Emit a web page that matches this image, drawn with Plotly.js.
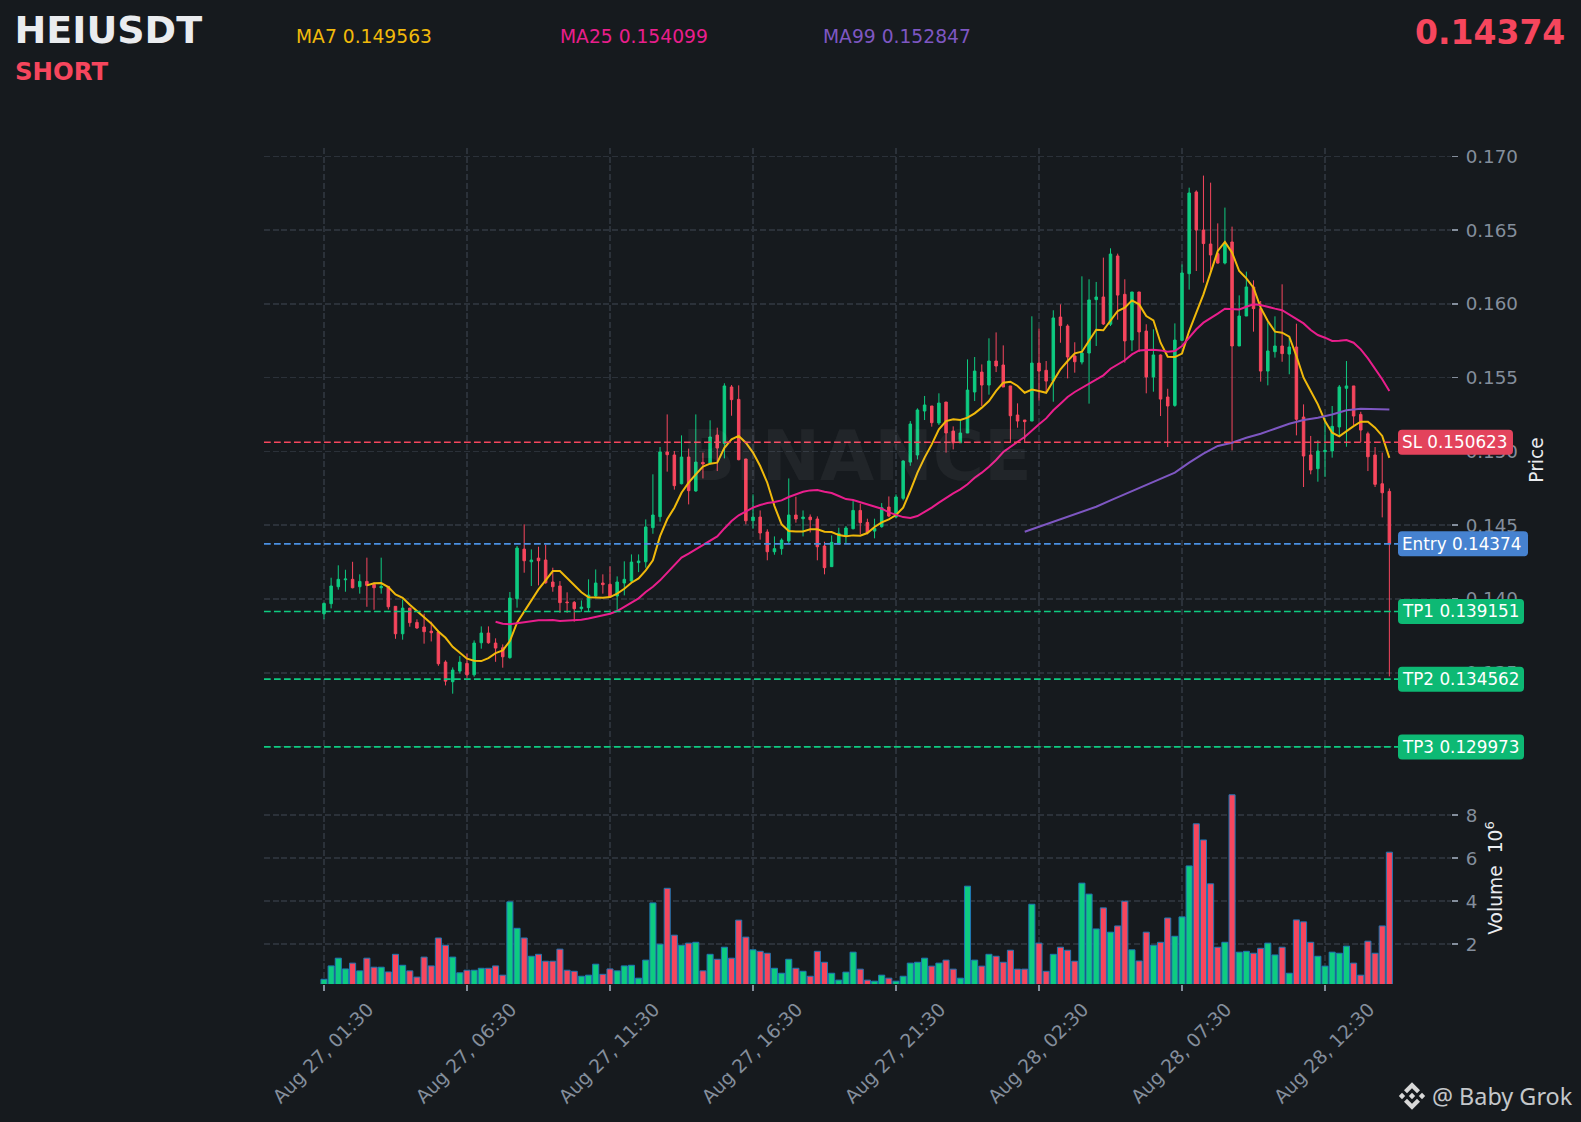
<!DOCTYPE html>
<html><head><meta charset="utf-8">
<script src="https://cdn.plot.ly/plotly-3.0.1.min.js"></script>
<style>html,body{margin:0;padding:0;background:#161a1e}#c{width:1581px;height:1122px}</style></head>
<body><div id="c"></div>
<script>
const opens=[.13900,.13968,.14083,.14130,.14133,.14083,.14119,.14099,.14076,.14085,.13950,.13764,.13938,.13841,.13810,.13782,.13776,.13572,.13439,.13511,.13563,.13486,.13703,.13769,.13701,.13669,.13602,.14002,.14338,.14252,.14277,.14264,.14115,.14088,.13979,.13977,.13934,.13941,.14020,.14108,.14099,.14020,.14108,.14121,.14246,.14252,.14483,.14558,.14996,.14976,.14781,.14962,.14732,.14926,.14919,.15111,.15055,.15437,.15353,.14949,.14530,.14555,.14454,.14320,.14341,.14393,.14569,.14544,.14555,.14542,.14359,.14219,.14372,.14433,.14476,.14600,.14519,.14460,.14490,.14623,.14555,.14682,.14928,.14976,.15274,.15308,.15193,.15335,.15138,.15059,.15125,.15403,.15538,.15450,.15613,.15586,.15444,.15247,.15213,.15206,.15599,.15550,.15477,.15911,.15850,.15647,.15606,.15667,.16029,.16047,.15862,.16325,.16065,.15755,.16081,.15816,.15505,.15654,.15369,.15312,.15753,.16205,.16759,.16501,.16406,.16341,.16277,.16420,.15715,.15918,.16115,.15968,.15545,.15676,.15715,.15660,.15708,.15233,.14976,.14883,.14998,.15003,.15166,.15428,.15444,.15251,.15120,.14976,.14781,.14729];
const highs=[.13975,.14144,.14228,.14198,.14252,.14167,.14280,.14112,.14280,.14088,.13950,.13997,.13940,.13862,.13900,.13846,.13776,.13584,.13536,.13613,.13629,.13719,.13814,.13814,.13733,.13692,.14047,.14359,.14506,.14336,.14354,.14368,.14212,.14121,.14045,.13986,.13990,.14133,.14200,.14167,.14221,.14153,.14255,.14302,.14302,.14539,.14845,.15030,.15251,.15003,.15109,.15019,.15251,.14992,.15211,.15161,.15462,.15450,.15448,.14949,.14709,.14600,.14472,.14424,.14411,.14817,.14693,.14600,.14573,.14560,.14388,.14431,.14483,.14494,.14664,.14646,.14544,.14544,.14650,.14695,.14709,.14940,.15206,.15292,.15376,.15308,.15394,.15335,.15170,.15206,.15624,.15640,.15590,.15767,.15807,.15719,.15444,.15326,.15213,.15916,.15834,.15613,.15957,.15997,.15862,.15740,.16187,.16167,.16149,.16314,.16377,.16341,.16167,.16081,.16081,.15862,.15828,.15658,.15425,.15868,.16268,.16788,.16770,.16870,.16822,.16546,.16653,.16524,.16058,.16219,.16160,.16020,.15875,.15916,.16133,.15771,.15866,.15319,.15105,.15075,.15229,.15308,.15450,.15613,.15444,.15269,.15134,.15030,.14992,.14749];
const lows=[.13862,.13936,.14063,.14049,.14072,.14036,.13947,.13927,.14036,.13929,.13730,.13724,.13812,.13798,.13697,.13712,.13547,.13414,.13358,.13495,.13461,.13473,.13663,.13697,.13574,.13534,.13595,.13941,.14178,.14088,.14092,.14103,.14049,.13907,.13907,.13846,.13913,.13913,.14008,.14036,.14008,.13923,.14024,.14108,.14182,.14212,.14442,.14524,.14863,.14741,.14777,.14641,.14727,.14817,.14912,.14867,.14953,.15242,.14940,.14506,.14476,.14402,.14262,.14300,.14300,.14379,.14517,.14424,.14451,.14262,.14167,.14219,.14372,.14372,.14472,.14438,.14438,.14411,.14483,.14555,.14551,.14668,.14903,.14946,.15213,.15168,.15179,.14992,.15014,.15059,.15125,.15342,.15308,.15385,.15538,.15437,.15059,.15161,.15059,.15206,.15346,.15403,.15337,.15737,.15495,.15534,.15590,.15324,.15715,.15857,.15850,.15893,.15602,.15681,.15674,.15394,.15405,.15240,.15030,.15303,.15749,.16097,.16223,.16144,.16223,.16273,.16268,.15007,.15715,.15918,.15812,.15473,.15448,.15636,.15608,.15523,.15109,.14759,.14845,.14795,.14827,.14958,.15111,.15032,.15179,.15064,.14867,.14759,.14553,.13475];
const closes=[.13970,.14088,.14133,.14135,.14076,.14119,.14092,.14076,.14085,.13947,.13764,.13938,.13839,.13803,.13778,.13771,.13561,.13443,.13518,.13572,.13486,.13701,.13769,.13703,.13667,.13608,.14006,.14345,.14259,.14264,.14259,.14110,.14083,.13975,.13975,.13934,.13945,.14026,.14108,.14097,.14013,.14115,.14133,.14250,.14257,.14488,.14569,.14996,.14978,.14768,.14962,.14734,.14928,.14915,.15098,.15023,.15444,.15351,.14944,.14530,.14555,.14447,.14320,.14341,.14399,.14569,.14542,.14555,.14537,.14354,.14212,.14384,.14445,.14481,.14600,.14517,.14449,.14478,.14619,.14562,.14691,.14935,.15186,.15281,.15315,.15195,.15328,.15125,.15059,.15125,.15416,.15545,.15450,.15613,.15579,.15437,.15242,.15206,.15202,.15599,.15545,.15477,.15905,.15853,.15640,.15608,.15667,.16027,.16047,.15864,.16338,.16060,.15749,.16081,.15810,.15505,.15654,.15355,.15308,.15755,.16210,.16752,.16501,.16409,.16332,.16277,.16409,.15715,.15918,.16115,.15968,.15545,.15681,.15715,.15663,.15708,.15218,.14969,.14874,.15003,.15007,.15170,.15437,.15444,.15240,.15145,.14964,.14777,.14720,.14374];
const volumeM=[.37,.99,1.35,.85,1.12,.76,1.35,.93,.93,.71,1.53,1.02,.76,.47,1.40,.99,2.29,1.95,1.40,.67,.79,.79,.88,.88,.99,.56,3.97,2.74,2.29,1.44,1.53,1.21,1.21,1.77,.79,.74,.51,.56,1.07,.60,.85,.76,.99,1.02,.42,1.26,3.92,2.00,4.60,2.42,1.95,2.05,2.09,.76,1.53,1.30,1.86,1.35,3.12,2.33,1.74,1.67,1.58,.88,.65,1.30,.88,.74,.51,1.67,1.16,.65,.33,.70,1.63,.84,.33,.28,.56,.42,.28,.51,1.12,1.16,1.35,.98,1.12,1.26,.84,.42,4.70,1.26,.98,1.53,1.44,1.16,1.72,.84,.84,3.86,2.05,.74,1.53,1.86,1.72,1.21,4.84,4.33,2.71,3.69,2.56,2.85,4.00,1.74,1.22,2.56,1.95,2.09,3.22,2.37,3.27,5.64,7.60,6.85,4.81,1.86,2.09,8.95,1.63,1.67,1.58,1.81,2.05,1.50,1.86,.65,3.13,3.04,2.09,1.44,.98,1.63,1.58,1.91,1.12,.56,2.14,1.58,2.85,6.28];
const ma7Start=6;
const ma7=[.14092,.14106,.14108,.14081,.14031,.14008,.13961,.13918,.13877,.13834,.13780,.13737,.13676,.13635,.13595,.13581,.13579,.13599,.13633,.13651,.13715,.13839,.13913,.13988,.14065,.14126,.14189,.14189,.14139,.14094,.14045,.14011,.14008,.14008,.14013,.14036,.14069,.14110,.14139,.14194,.14262,.14426,.14540,.14619,.14720,.14788,.14845,.14897,.14917,.14924,.15025,.15082,.15105,.15059,.14992,.14901,.14788,.14630,.14506,.14460,.14458,.14458,.14472,.14472,.14456,.14454,.14433,.14426,.14431,.14429,.14447,.14488,.14519,.14540,.14569,.14619,.14732,.14856,.14958,.15048,.15150,.15206,.15218,.15213,.15229,.15258,.15297,.15342,.15410,.15466,.15473,.15444,.15398,.15419,.15410,.15398,.15477,.15557,.15613,.15665,.15676,.15749,.15825,.15821,.15884,.15952,.15975,.16024,.15997,.15918,.15889,.15737,.15642,.15640,.15663,.15816,.15941,.16065,.16212,.16359,.16420,.16348,.16223,.16173,.16110,.15975,.15884,.15812,.15805,.15778,.15647,.15500,.15410,.15319,.15206,.15127,.15102,.15138,.15172,.15202,.15202,.15161,.15105,.14956];
const ma25Start=24;
const ma25=[.13846,.13832,.13828,.13834,.13841,.13850,.13855,.13855,.13857,.13850,.13852,.13857,.13859,.13868,.13880,.13891,.13900,.13918,.13947,.13975,.14004,.14047,.14083,.14126,.14178,.14234,.14280,.14307,.14336,.14363,.14393,.14424,.14478,.14528,.14567,.14591,.14619,.14637,.14650,.14657,.14668,.14691,.14709,.14727,.14736,.14738,.14727,.14718,.14698,.14677,.14671,.14655,.14641,.14623,.14612,.14587,.14571,.14555,.14549,.14562,.14591,.14619,.14653,.14686,.14716,.14743,.14777,.14822,.14856,.14897,.14942,.14996,.15034,.15066,.15098,.15143,.15184,.15224,.15279,.15324,.15369,.15403,.15432,.15462,.15489,.15516,.15561,.15590,.15618,.15658,.15685,.15688,.15690,.15685,.15676,.15681,.15715,.15771,.15828,.15873,.15902,.15934,.15968,.15963,.15963,.15981,.15997,.15993,.15979,.15968,.15957,.15929,.15900,.15868,.15823,.15789,.15771,.15749,.15751,.15755,.15737,.15692,.15631,.15563,.15489,.15410];
const ma99Index=[98,100,103,106,108,110,112,115,117,119,121,123,125,127,129,131,133,135,137,139,141,143,145,147,149];
const ma99=[.14456,.14490,.14538,.14588,.14625,.14668,.14710,.14777,.14815,.14856,.14924,.14985,.15037,.15059,.15093,.15120,.15154,.15188,.15213,.15229,.15251,.15279,.15290,.15290,.15285];
const levelNames=['SL','Entry','TP1','TP2','TP3'];
const levelValues=[.150623,.14374,.139151,.134562,.129973];
const levelColors=['#f6465d','#4a90e2','#0ecb81','#0ecb81','#0ecb81'];
const levelBoxColors=['#e3435c','#4682d0','#0db974','#0db974','#0db974'];
const levelBoxWidths=[115,130,126,126,126];
const tickIndex=[0,20,40,60,80,100,120,140];
const tickLabels=['Aug 27, 01:30','Aug 27, 06:30','Aug 27, 11:30','Aug 27, 16:30','Aug 27, 21:30','Aug 28, 02:30','Aug 28, 07:30','Aug 28, 12:30'];
const maLabels=['MA7 0.149563','MA25 0.154099','MA99 0.152847'];

const W=1581,H=1122,L=264,R=130,T=148,B=138,SPLIT=772;
const px=x=>(x-L)/(W-L-R), py=y=>1-(y-T)/(H-T-B);
const UP='#0ecb81',DN='#f6465d',BG='#161a1e',TICK='#848e9c',GRID='#2b3139',DASH='6px,2.7px';
const xs=opens.map((_,i)=>i);
const seq=(s,n)=>Array.from({length:n},(_,k)=>s+k);

const traces=[
 {type:'candlestick',x:xs,open:opens,high:highs,low:lows,close:closes,xaxis:'x',yaxis:'y',whiskerwidth:0,
  increasing:{line:{color:UP,width:1},fillcolor:UP},decreasing:{line:{color:DN,width:1},fillcolor:DN},hoverinfo:'skip',name:'HEIUSDT'},
 {type:'scatter',mode:'lines',name:'MA7',x:seq(ma7Start,ma7.length),y:ma7,line:{color:'#f0b90b',width:2},xaxis:'x',yaxis:'y',hoverinfo:'skip'},
 {type:'scatter',mode:'lines',name:'MA25',x:seq(ma25Start,ma25.length),y:ma25,line:{color:'#e91e8c',width:2},xaxis:'x',yaxis:'y',hoverinfo:'skip'},
 {type:'scatter',mode:'lines',name:'MA99',x:ma99Index,y:ma99,line:{color:'#7e57c2',width:2},xaxis:'x',yaxis:'y',hoverinfo:'skip'},
 {type:'bar',name:'Volume',x:xs,y:volumeM,xaxis:'x',yaxis:'y2',width:0.85,
  marker:{color:xs.map(i=>closes[i]>=opens[i]?UP:DN),line:{color:'#1f77b4',width:1}},hoverinfo:'skip'}
];

function rr(x0,y0,x1,y1,r){return `M${x0+r},${y0}L${x1-r},${y0}Q${x1},${y0} ${x1},${y0+r}L${x1},${y1-r}Q${x1},${y1} ${x1-r},${y1}L${x0+r},${y1}Q${x0},${y1} ${x0},${y1-r}L${x0},${y0+r}Q${x0},${y0} ${x0+r},${y0}Z`;}

const shapes=[],annotations=[];
levelValues.forEach((v,i)=>{
 shapes.push({type:'line',xref:'paper',yref:'y',x0:0,x1:px(1398),y0:v,y1:v,line:{color:levelColors[i],width:1.7,dash:'6.7px,3.3px'},layer:'above'});
 shapes.push({type:'path',xref:'paper',yref:'y',xsizemode:'pixel',ysizemode:'pixel',xanchor:px(1398),yanchor:v,
   path:rr(0,-12.5,levelBoxWidths[i],12.5,4),fillcolor:levelBoxColors[i],line:{width:0},layer:'above'});
 annotations.push({xref:'paper',yref:'y',x:px(1400.5),y:v,xanchor:'left',yanchor:'middle',showarrow:false,
   text:levelNames[i]+' '+String(v),font:{family:'DejaVu Sans',size:16.8,color:'#ffffff'},borderpad:0});
});
// Binance-style logo next to the signature
const logoX=px(1412),logoY=py(1096);
[[ -10,0],[0,0],[10,0]].forEach(([dx,dy])=>{
 shapes.push({type:'path',xref:'paper',yref:'paper',xsizemode:'pixel',ysizemode:'pixel',xanchor:logoX,yanchor:logoY,
  path:`M${dx-3.2},${dy}L${dx},${dy+3.2}L${dx+3.2},${dy}L${dx},${dy-3.2}Z`,fillcolor:'#d9d9d9',line:{width:0},layer:'above'});
});
[1,-1].forEach(s=>{
 shapes.push({type:'path',xref:'paper',yref:'paper',xsizemode:'pixel',ysizemode:'pixel',xanchor:logoX,yanchor:logoY,
  path:`M0,${13.7*s}L8,${5.7*s}L5,${2.7*s}L0,${7.7*s}L-5,${2.7*s}L-8,${5.7*s}Z`,fillcolor:'#d9d9d9',line:{width:0},layer:'above'});
});
function label(text,x,y,size,color,bold,anchor,family){
 annotations.push({xref:'paper',yref:'paper',x:px(x),y:py(y),xanchor:anchor||'left',yanchor:'middle',showarrow:false,text:bold?'<b>'+text+'</b>':text,
   font:{family:family||'DejaVu Sans',size:size,color:color},borderpad:0,borderwidth:0});
}
label('BINANCE',857,456,70,'rgba(255,255,255,0.05)',true,'center');
label('SHORT',14.5,71,24.4,'#f6465d',true);
label(maLabels[0],295.5,36.5,18.7,'#f0b90b');
label(maLabels[1],559.5,36.5,18.7,'#e91e8c');
label(maLabels[2],823,36.5,18.7,'#7e57c2');
label('0.14374',1564.5,32,33,'#f6465d',true,'right');
label('@ Baby Grok',1431.5,1096,23.4,'#c4c7ca',false,'left','Noto Sans');

const layout={
 width:W,height:H,paper_bgcolor:BG,plot_bgcolor:BG,showlegend:false,hovermode:false,dragmode:false,
 margin:{l:L,r:R,t:T,b:B,pad:0},boxgap:0.5,bargap:0,
 font:{family:'DejaVu Sans',color:TICK},
 title:{text:'<b>HEIUSDT</b>',x:14.5/W,xanchor:'left',xref:'container',y:1-30/H,yanchor:'middle',yref:'container',font:{family:'DejaVu Sans',size:38,color:'#eaecef'}},
 xaxis:{type:'linear',domain:[0,1],anchor:'y2',range:[-8.39,157.62],tickmode:'array',tickvals:tickIndex,ticktext:tickLabels,tickangle:-45,
   ticklabelshift:44,ticklabelstandoff:0,
   showgrid:true,gridcolor:GRID,gridwidth:2,griddash:DASH,zeroline:false,showline:false,
   ticks:'outside',ticklen:6,tickwidth:1.5,tickcolor:TICK,tickfont:{family:'DejaVu Sans',size:18.8,color:TICK},rangeslider:{visible:false},fixedrange:true},
 yaxis:{domain:[py(SPLIT),1],side:'right',anchor:'x',range:[.12827,.17057],tick0:.13,dtick:.005,tickformat:'.3f',
   showgrid:true,gridcolor:GRID,gridwidth:1.6,griddash:DASH,zeroline:false,showline:false,
   ticks:'outside',ticklen:6,tickwidth:1.5,tickcolor:TICK,tickfont:{family:'DejaVu Sans',size:18.3,color:TICK},ticklabelstandoff:4,
   title:{text:'Price',standoff:12,font:{family:'DejaVu Sans',size:18.7,color:'#eaecef'}},fixedrange:true},
 yaxis2:{domain:[0,py(SPLIT)],side:'right',anchor:'x',range:[.149,10.01],tickvals:[2,4,6,8],ticktext:['2','4','6','8'],
   showgrid:true,gridcolor:GRID,gridwidth:1.6,griddash:DASH,zeroline:false,showline:false,
   ticks:'outside',ticklen:6,tickwidth:1.5,tickcolor:TICK,tickfont:{family:'DejaVu Sans',size:18.3,color:TICK},ticklabelstandoff:4,
   title:{text:'Volume  10<sup>6</sup>',standoff:12,font:{family:'DejaVu Sans',size:18.7,color:'#eaecef'}},fixedrange:true},
 shapes,annotations
};
Plotly.newPlot('c',traces,layout,{displayModeBar:false,staticPlot:true});
</script></body></html>
